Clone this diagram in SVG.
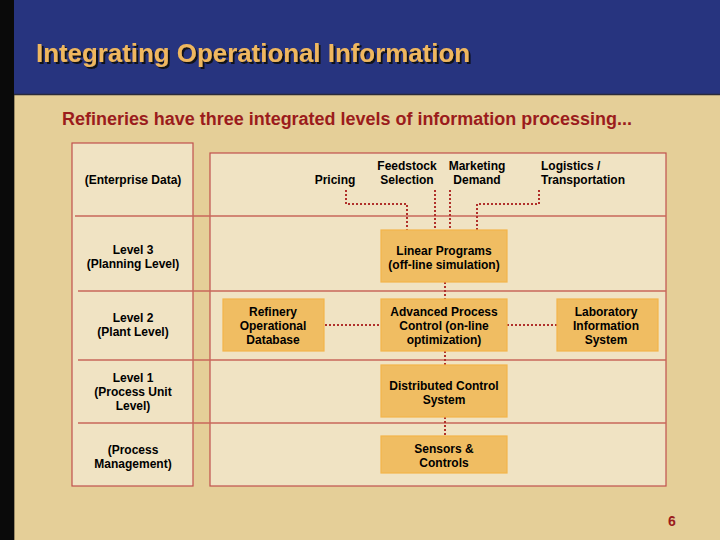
<svg xmlns="http://www.w3.org/2000/svg" width="720" height="540" viewBox="0 0 720 540">
<defs>
<style>
.t{font-family:"Liberation Sans",Arial,sans-serif;font-weight:bold;font-size:12px;fill:#000;text-anchor:middle}
.tl{text-anchor:start}
.panel{fill:#F0E3C3;stroke:#C0504D;stroke-width:1.2}
.row{stroke:#C8675A;stroke-width:1.5;fill:none}
.box{fill:#F0BD62;stroke:#F4B44A;stroke-width:1.2}
.dot{stroke:#B0302A;stroke-width:2;stroke-dasharray:2 2;fill:none}
</style>
<filter id="shadow" x="-5%" y="-30%" width="110%" height="160%">
<feDropShadow dx="2" dy="2" stdDeviation="0.6" flood-color="#111" flood-opacity="0.9"/>
</filter>
</defs>
<rect x="0" y="0" width="720" height="540" fill="#E5CF98"/>
<rect x="0" y="0" width="14" height="540" fill="#0a0a0a"/>
<line x1="14.5" y1="94" x2="14.5" y2="540" stroke="#9a8a66" stroke-width="1"/>
<rect x="14" y="0" width="706" height="94" fill="#27347F"/>
<line x1="14" y1="94.5" x2="720" y2="94.5" stroke="#2a2a3a" stroke-width="1.5"/>
<g id="title">
<text x="36" y="62" font-family="Liberation Sans,Arial,sans-serif" font-weight="bold" font-size="26" fill="#EFB75E" textLength="434" lengthAdjust="spacingAndGlyphs" filter="url(#shadow)">Integrating Operational Information</text>
</g>
<text id="subtitle" x="62" y="125" font-family="Liberation Sans,Arial,sans-serif" font-weight="bold" font-size="18" fill="#9B1C1C" textLength="570" lengthAdjust="spacingAndGlyphs">Refineries have three integrated levels of information processing...</text>

<g id="left-panel">
<rect class="panel" x="72" y="143" width="121" height="343"/>
</g>
<g id="right-panel">
<rect class="panel" x="210" y="153" width="456" height="333"/>
</g>
<g id="rows">
<line class="row" x1="75" y1="216" x2="666" y2="216"/>
<line class="row" x1="78" y1="291" x2="666" y2="291"/>
<line class="row" x1="78" y1="360" x2="666" y2="360"/>
<line class="row" x1="78" y1="423" x2="666" y2="423"/>
</g>

<g id="level-labels">
<text class="t" x="133" y="184">(Enterprise Data)</text>
<text class="t" x="133" y="254">Level 3</text>
<text class="t" x="133" y="268">(Planning Level)</text>
<text class="t" x="133" y="322">Level 2</text>
<text class="t" x="133" y="336">(Plant Level)</text>
<text class="t" x="133" y="382">Level 1</text>
<text class="t" x="133" y="396">(Process Unit</text>
<text class="t" x="133" y="410">Level)</text>
<text class="t" x="133" y="454">(Process</text>
<text class="t" x="133" y="468">Management)</text>
</g>

<g id="pricing"><text class="t" x="335" y="184">Pricing</text></g>
<g id="feedstock"><text class="t" x="407" y="170">Feedstock</text><text class="t" x="407" y="184">Selection</text></g>
<g id="marketing"><text class="t" x="477" y="170">Marketing</text><text class="t" x="477" y="184">Demand</text></g>
<g id="logistics"><text class="t tl" x="541" y="170">Logistics /</text><text class="t tl" x="541" y="184">Transportation</text></g>

<g id="connectors">
<polyline class="dot" points="346,190 346,204 407,204 407,230"/>
<line class="dot" x1="435" y1="190" x2="435" y2="230"/>
<line class="dot" x1="450" y1="190" x2="450" y2="230"/>
<polyline class="dot" points="539,190 539,204 477,204 477,230"/>
<line class="dot" x1="445" y1="282" x2="445" y2="299"/>
<line class="dot" x1="445" y1="351" x2="445" y2="365"/>
<line class="dot" x1="445" y1="417" x2="445" y2="436"/>
<line class="dot" x1="325" y1="325" x2="381" y2="325"/>
<line class="dot" x1="507" y1="325" x2="557" y2="325"/>
</g>

<g id="linear-programs">
<rect class="box" x="381" y="230" width="126" height="52"/>
<text class="t" x="444" y="255">Linear Programs</text>
<text class="t" x="444" y="269">(off-line simulation)</text>
</g>
<g id="refinery-db">
<rect class="box" x="223" y="299" width="101" height="52"/>
<text class="t" x="273" y="316">Refinery</text>
<text class="t" x="273" y="330">Operational</text>
<text class="t" x="273" y="344">Database</text>
</g>
<g id="apc">
<rect class="box" x="381" y="299" width="126" height="52"/>
<text class="t" x="444" y="316">Advanced Process</text>
<text class="t" x="444" y="330">Control (on-line</text>
<text class="t" x="444" y="344">optimization)</text>
</g>
<g id="lims">
<rect class="box" x="557" y="299" width="101" height="52"/>
<text class="t" x="606" y="316">Laboratory</text>
<text class="t" x="606" y="330">Information</text>
<text class="t" x="606" y="344">System</text>
</g>
<g id="dcs">
<rect class="box" x="381" y="365" width="126" height="52"/>
<text class="t" x="444" y="390">Distributed Control</text>
<text class="t" x="444" y="404">System</text>
</g>
<g id="sensors">
<rect class="box" x="381" y="436" width="126" height="37"/>
<text class="t" x="444" y="453">Sensors &amp;</text>
<text class="t" x="444" y="467">Controls</text>
</g>

<text x="672" y="526" font-family="Liberation Sans,Arial,sans-serif" font-weight="bold" font-size="14" fill="#9B1C1C" text-anchor="middle">6</text>
</svg>
